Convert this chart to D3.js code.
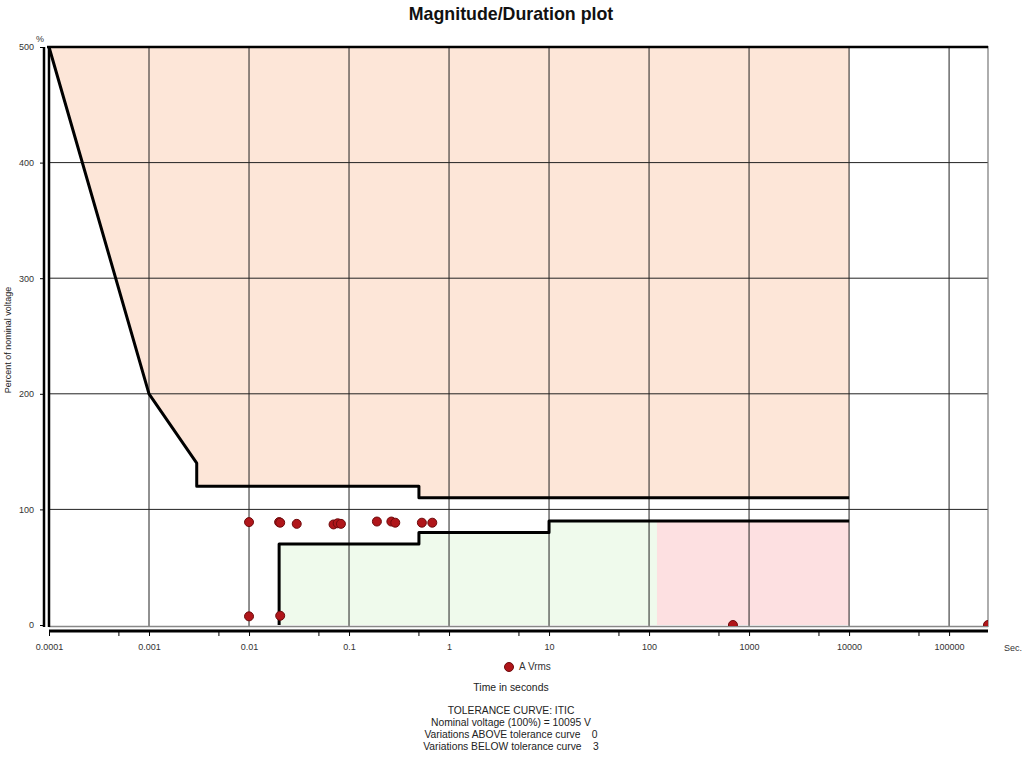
<!DOCTYPE html>
<html><head><meta charset="utf-8">
<script src="https://cdn.jsdelivr.net/npm/d3@7"></script>
<style>body{margin:0;background:#fff;} svg{display:block;font-family:"Liberation Sans",Arial,sans-serif;}</style>
</head><body>
<svg id="c" width="1024" height="763"></svg>
<script>
// ----- data -----
const xTickValues = [0.0001, 0.001, 0.01, 0.1, 1, 10, 100, 1000, 10000, 100000];
const xTickLabels = ["0.0001", "0.001", "0.01", "0.1", "1", "10", "100", "1000", "10000", "100000"];
const xMinorTicks = [0.0005, 0.005, 0.05, 0.5, 5, 50, 500, 5000, 50000];
const yTickValues = [0, 100, 200, 300, 400, 500];
const upperCurveT = [0.0001, 0.001, 0.003, 0.003, 0.5, 0.5, 10000];
const upperCurveV = [500, 200, 140, 120, 120, 110, 110];
const lowerCurveT = [0.02, 0.02, 0.5, 0.5, 10, 10, 10000];
const lowerCurveV = [0, 70, 70, 80, 80, 90, 90];
const greenZoneT = [0.02, 120];
const pinkZoneT = [120, 10000];
const eventT = [0.01, 0.02, 0.0205, 0.03, 0.07, 0.077, 0.083, 0.19, 0.265, 0.29, 0.535, 0.68, 0.01, 0.0205, 690, 245000];
const eventV = [89, 89, 88.5, 87.5, 87, 88, 87.5, 89.5, 89.5, 88.5, 88.5, 88.5, 7.5, 8, 0, 0];
const infoLines = ["TOLERANCE CURVE: ITIC", "Nominal voltage (100%) = 10095 V",
  "Variations ABOVE tolerance curve\u00a0\u00a0\u00a0\u00a00", "Variations BELOW tolerance curve\u00a0\u00a0\u00a0\u00a03"];

// ----- layout -----
const svg = d3.select("#c");
const x = d3.scaleLog().domain([0.0001, 245000]).range([49, 988]);
const y = d3.scaleLinear().domain([0, 500]).range([625, 47]);

function lowerAt(t) {
  let v = 0;
  for (let i = 0; i < lowerCurveT.length; i++) if (lowerCurveT[i] <= t) v = lowerCurveV[i];
  return v;
}

const area = d3.line().x(d => x(d[0])).y(d => y(d[1]));

// peach zone
const peach = [[upperCurveT[0], 500]];
upperCurveT.forEach((t, i) => peach.push([t, upperCurveV[i]]));
peach.push([10000, 500]);
svg.append("path").attr("d", area(peach) + "Z").attr("fill", "#fde6d8");

// green & pink zones
function zone(t0, t1) {
  const pts = [[t0, 0], [t0, lowerAt(t0)]];
  lowerCurveT.forEach((t, i) => { if (t > t0 && t < t1) pts.push([t, lowerCurveV[i]]); });
  pts.push([t1, lowerAt(t1)], [t1, 0]);
  return pts;
}
svg.append("path").attr("d", area(zone(greenZoneT[0], greenZoneT[1])) + "Z").attr("fill", "#effaec");
svg.append("path").attr("d", area(zone(pinkZoneT[0], pinkZoneT[1])) + "Z").attr("fill", "#fde0e1");

// grid
svg.append("g").selectAll("line").data(xTickValues.slice(1)).join("line")
  .attr("x1", d => x(d)).attr("x2", d => x(d)).attr("y1", y(500)).attr("y2", 627)
  .attr("stroke", "#222").attr("stroke-width", 1);
svg.append("g").selectAll("line").data(yTickValues.slice(1, 5)).join("line")
  .attr("x1", 49).attr("x2", 988).attr("y1", d => y(d)).attr("y2", d => y(d))
  .attr("stroke", "#222").attr("stroke-width", 1);
svg.append("line").attr("x1", 988).attr("x2", 988).attr("y1", 46).attr("y2", 627).attr("stroke", "#777").attr("stroke-width", 1.2);
svg.append("line").attr("x1", 49).attr("x2", 988).attr("y1", 626.5).attr("y2", 626.5).attr("stroke", "#888").attr("stroke-width", 1.5);
svg.append("line").attr("x1", 47).attr("x2", 988).attr("y1", y(500)).attr("y2", y(500)).attr("stroke", "#000").attr("stroke-width", 2.5);
svg.append("line").attr("x1", 49).attr("x2", 49).attr("y1", 46).attr("y2", 627).attr("stroke", "#000").attr("stroke-width", 2.5);

// curves
const curveLine = d3.line().x(d => x(d[0])).y(d => y(d[1]));
svg.append("path").attr("d", curveLine(upperCurveT.map((t, i) => [t, upperCurveV[i]])))
  .attr("fill", "none").attr("stroke", "#000").attr("stroke-width", 3).attr("stroke-linejoin", "round");
svg.append("path").attr("d", curveLine(lowerCurveT.map((t, i) => [t, lowerCurveV[i]])))
  .attr("fill", "none").attr("stroke", "#000").attr("stroke-width", 3).attr("stroke-linejoin", "round");

// y axis
const yAxis = d3.axisLeft(y).tickValues(yTickValues).tickSize(4).tickPadding(6).tickFormat(d3.format("d"));
const gy = svg.append("g").attr("transform", "translate(44,0)").call(yAxis);
gy.select(".domain").attr("stroke", "#000").attr("stroke-width", 2.5).attr("d", `M0,${y(500)}V${y(0) + 2}`);
gy.selectAll(".tick line").attr("stroke", "#000");
gy.selectAll("text").attr("font-size", 9).attr("fill", "#333").attr("font-family", "Liberation Sans, Arial");

// x axis
const xAxis = d3.axisBottom(x).tickValues(xTickValues).tickSize(5).tickPadding(8)
  .tickFormat((d, i) => xTickLabels[i]);
const gx = svg.append("g").attr("transform", "translate(0,631)").call(xAxis);
gx.select(".domain").attr("stroke", "#000").attr("stroke-width", 3).attr("d", `M49,0H988`);
gx.selectAll(".tick line").attr("stroke", "#000");
gx.selectAll("text").attr("font-size", 9).attr("fill", "#333").attr("font-family", "Liberation Sans, Arial");
gx.append("g").selectAll("line").data(xMinorTicks).join("line")
  .attr("x1", d => x(d)).attr("x2", d => x(d)).attr("y1", 0).attr("y2", 5).attr("stroke", "#000");

// events
svg.append("defs").append("clipPath").attr("id", "plotclip").append("rect")
  .attr("x", 49).attr("y", 40).attr("width", 939).attr("height", 586);
svg.append("g").attr("clip-path", "url(#plotclip)").selectAll("circle")
  .data(eventT.map((t, i) => [t, eventV[i]])).join("circle")
  .attr("cx", d => x(d[0])).attr("cy", d => y(d[1])).attr("r", 4.5)
  .attr("fill", "#b0161a").attr("stroke", "#6e0a0c").attr("stroke-width", 1);

// texts
svg.append("text").attr("x", 511).attr("y", 20).attr("text-anchor", "middle")
  .attr("font-size", 17.8).attr("font-weight", "bold").attr("fill", "#111").text("Magnitude/Duration plot");
svg.append("text").attr("x", 40).attr("y", 42).attr("text-anchor", "middle")
  .attr("font-size", 9).attr("fill", "#333").text("%");
svg.append("text").attr("transform", "translate(11,340) rotate(-90)").attr("text-anchor", "middle")
  .attr("font-size", 9).attr("fill", "#222").text("Percent of nominal voltage");
svg.append("text").attr("x", 1004).attr("y", 651).attr("font-size", 9).attr("fill", "#333").text("Sec.");
svg.append("circle").attr("cx", 509).attr("cy", 667).attr("r", 4.5).attr("fill", "#b0161a").attr("stroke", "#6e0a0c");
svg.append("text").attr("x", 519).attr("y", 670).attr("font-size", 10).attr("fill", "#333").text("A Vrms");
svg.append("text").attr("x", 511).attr("y", 691).attr("text-anchor", "middle").attr("font-size", 10.4).attr("fill", "#222").text("Time in seconds");
svg.append("g").selectAll("text").data(infoLines).join("text")
  .attr("x", 511).attr("y", (d, i) => 714 + i * 12).attr("text-anchor", "middle")
  .attr("font-size", 10.3).attr("fill", "#222").text(d => d);
</script>
</body></html>
